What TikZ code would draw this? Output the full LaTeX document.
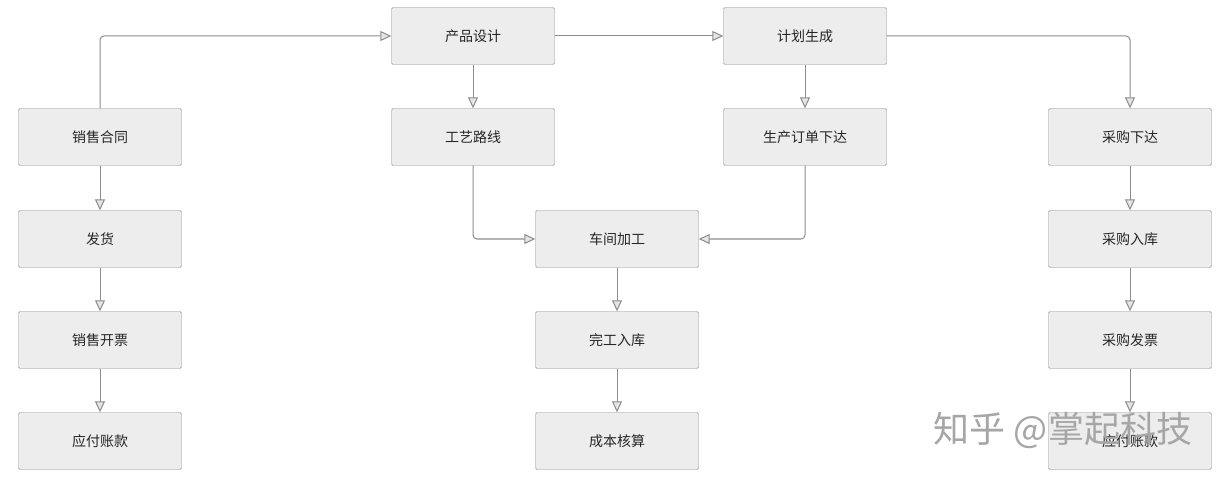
\documentclass[tikz,border=0pt]{standalone}
\usepackage{fontspec}
\setmainfont{Noto Sans CJK SC}
\usetikzlibrary{arrows.meta}
\begin{document}
\begin{tikzpicture}[x=1pt,y=-1pt,
  box/.style={draw=black!45,fill=black!7,rounded corners=1.5pt,minimum width=163pt,minimum height=57pt,inner sep=0pt,font=\fontsize{14}{16}\selectfont,text=black!85},
  arr/.style={draw=black!45,line width=1pt,rounded corners=4pt,-{Triangle[open,length=11pt,width=10pt,fill=black!10]}}]
\useasboundingbox[fill=white] (0,0) rectangle (1230,478);
\node[box] (xs) at (100,137) {销售合同};
\node[box] (fh) at (100,239) {发货};
\node[box] (kp) at (100,340) {销售开票};
\node[box] (yf) at (100,441) {应付账款};
\node[box] (cp) at (473,36) {产品设计};
\node[box] (gy) at (473,137) {工艺路线};
\node[box] (jh) at (805,36) {计划生成};
\node[box] (sc) at (805,137) {生产订单下达};
\node[box] (cj) at (617,239) {车间加工};
\node[box] (wg) at (617,340) {完工入库};
\node[box] (cb) at (617,441) {成本核算};
\node[box] (cg) at (1130,137) {采购下达};
\node[box] (rk) at (1130,239) {采购入库};
\node[box] (fp) at (1130,340) {采购发票};
\node[box] (yf2) at (1130,441) {应付账款};
\draw[arr] (xs.north) |- (cp.west);
\draw[arr] (cp.east) -- (jh.west);
\draw[arr] (jh.east) -| (cg.north);
\draw[arr] (cp.south) -- (gy.north);
\draw[arr] (jh.south) -- (sc.north);
\draw[arr] (gy.south) |- (cj.west);
\draw[arr] (sc.south) |- (cj.east);
\draw[arr] (xs) -- (fh);
\draw[arr] (fh) -- (kp);
\draw[arr] (kp) -- (yf);
\draw[arr] (cj) -- (wg);
\draw[arr] (wg) -- (cb);
\draw[arr] (cg) -- (rk);
\draw[arr] (rk) -- (fp);
\draw[arr] (fp) -- (yf2);
\node[font=\fontsize{36}{38}\selectfont,text=black!35] (wm) at (1063,430) {知乎 @掌起科技};
\end{tikzpicture}
\end{document}
